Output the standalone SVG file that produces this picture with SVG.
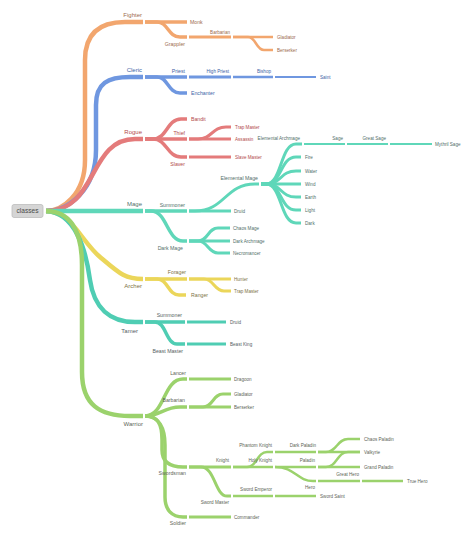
<svg xmlns="http://www.w3.org/2000/svg" width="474" height="540" viewBox="0 0 474 540">
<style>
.e{fill:none;stroke-linecap:butt;stroke-linejoin:round}
.o{stroke:#F2A66E}.b{stroke:#6F97E0}.r{stroke:#E47B7B}.m{stroke:#5FD7B9}.y{stroke:#EBD65A}.t{stroke:#4FCDB3}.g{stroke:#9BD26C}
.w1{stroke-width:4.5}.w2{stroke-width:3.5}.w3{stroke-width:3}.w4{stroke-width:2.5}.w5{stroke-width:2}
text{font-family:"Liberation Sans",Arial,sans-serif}
.l1{font-size:6px}.l2{font-size:5.2px}.l3{font-size:4.6px}
.en{text-anchor:end}
.to{fill:#9C6B4E}.tb{fill:#3D5FA6}.tr{fill:#B24A4A}.tm{fill:#52706A}.ty{fill:#7D7245}.tt{fill:#56625F}.tg{fill:#5E6658}
</style>
<rect width="474" height="540" fill="#fff"/>
<g id="connectors">
<path class="e o w1" d="M46,211 C62,211 85,195 85,160 L85,60 C85,35 98,22 125,22 L143,22"/>
<path class="e o w2" d="M145,22 L187,22"/>
<path class="e o w2" d="M145,22 L157,22 C168,22 168,37 180,37 L187,37"/>
<path class="e o w3" d="M189,37 L231,37"/>
<path class="e o w4" d="M233,37 L273,37"/>
<path class="e o w4" d="M233,37 L248,37 C256,37 256,50 264,50 L273,50"/>
<path class="e b w1" d="M46,211 C68,211 96,190 96,150 L96,105 C96,83 108,77 130,77 L143,77"/>
<path class="e b w2" d="M145,77 L187,77"/>
<path class="e b w2" d="M145,77 L157,77 C168,77 168,93 180,93 L187,93"/>
<path class="e b w3" d="M189,77 L231,77"/>
<path class="e b w4" d="M233,77 L273,77"/>
<path class="e b w5" d="M275,77 L316,77"/>
<path class="e r w1" d="M46,211 C98,211 88,139 135,139 L143,139"/>
<path class="e r w2" d="M145,139 L153,139 C167,139 167,119 181,119 L187,119"/>
<path class="e r w2" d="M145,139 L187,139"/>
<path class="e r w2" d="M145,139 L153,139 C167,139 167,157 181,157 L187,157"/>
<path class="e r w3" d="M189,139 L198,139 C212,139 212,127 226,127 L231,127"/>
<path class="e r w3" d="M189,139 L231,139"/>
<path class="e r w3" d="M189,157 L231,157"/>
<path class="e m w1" d="M46,211 L143,211"/>
<path class="e m w2" d="M145,211 L187,211"/>
<path class="e m w2" d="M145,211 L151,211 C167,211 167,241 183,241 L187,241"/>
<path class="e m w3" d="M189,211 L195,211 C225,211 225,184 255,184 L259,184"/>
<path class="e m w3" d="M189,211 L231,211"/>
<path class="e m w3" d="M261,184 L266,184 C282,184 280,144 296,144 L302,144"/>
<path class="e m w3" d="M261,184 L266,184 C282,184 280,157 296,157 L301,157"/>
<path class="e m w3" d="M261,184 L266,184 C282,184 280,171 296,171 L301,171"/>
<path class="e m w3" d="M261,184 L301,184"/>
<path class="e m w3" d="M261,184 L266,184 C282,184 280,197 296,197 L301,197"/>
<path class="e m w3" d="M261,184 L266,184 C282,184 280,210 296,210 L301,210"/>
<path class="e m w3" d="M261,184 L266,184 C282,184 280,223 296,223 L301,223"/>
<path class="e m w5" d="M304,144 L345,144"/>
<path class="e m w5" d="M347,144 L388,144"/>
<path class="e m w5" d="M390,144 L432,144"/>
<path class="e m w3" d="M189,241 L198,241 C208,241 208,228 218,228 L230,228"/>
<path class="e m w3" d="M189,241 L230,241"/>
<path class="e m w3" d="M189,241 L198,241 C208,241 208,253 218,253 L230,253"/>
<path class="e y w1" d="M46,211 C72,212 80,240 100,257 S125,279 143,279"/>
<path class="e y w2" d="M145,279 L187,279"/>
<path class="e y w2" d="M145,279 L157,279 C168,279 168,295 179,295 L186,295"/>
<path class="e y w3" d="M189,279 L231,279"/>
<path class="e y w3" d="M189,279 L204,279 C214,279 214,291 224,291 L231,291"/>
<path class="e t w1" d="M46,211 C75,212 86,250 90,280 C94,308 110,322 135,322 L143,322"/>
<path class="e t w2" d="M145,322 L185,322"/>
<path class="e t w2" d="M145,322 L155,322 C166,322 166,344 177,344 L185,344"/>
<path class="e t w3" d="M187,322 L226,322"/>
<path class="e t w3" d="M187,344 L226,344"/>
<path class="e g w1" d="M46,211 C68,211 82,228 82,265 L82,372 C82,405 100,416 130,416 L143,416"/>
<path class="e g w2" d="M145,416 C165,416 163,379 183,379 L187,379"/>
<path class="e g w2" d="M145,416 C160,416 164,407 180,407 L187,407"/>
<path class="e g w2" d="M145,416 C158,416 162,424 162,440 L162,450 C162,462 170,467 183,467 L187,467"/>
<path class="e g w2" d="M145,416 C159,416 165,428 165,445 L165,497 C165,510 172,517 183,517 L187,517"/>
<path class="e g w3" d="M189,379 L231,379"/>
<path class="e g w3" d="M189,407 L203,407 C213,407 213,394 223,394 L231,394"/>
<path class="e g w3" d="M189,407 L231,407"/>
<path class="e g w3" d="M189,517 L231,517"/>
<path class="e g w3" d="M189,467 L231,467"/>
<path class="e g w3" d="M189,467 L201,467 C215,467 215,496 227,496 L231,496"/>
<path class="e g w4" d="M233,467 L247,467 C257,467 257,452 267,452 L273,452"/>
<path class="e g w4" d="M233,467 L273,467"/>
<path class="e g w4" d="M233,496 L273,496"/>
<path class="e g w4" d="M275,452 L316,452"/>
<path class="e g w4" d="M275,467 L316,467"/>
<path class="e g w4" d="M275,467 C295,467 297,481 313,481 L316,481"/>
<path class="e g w4" d="M275,496 L316,496"/>
<path class="e g w4" d="M318,452 L326,452 C337,452 337,439 348,439 L360,439"/>
<path class="e g w4" d="M318,452 L360,452"/>
<path class="e g w4" d="M318,467 L326,467 C337,467 337,452 348,452 L360,452"/>
<path class="e g w4" d="M318,467 L360,467"/>
<path class="e g w4" d="M318,481 L360,481"/>
<path class="e g w4" d="M362,481 L403,481"/>
</g>
<g id="n-root">
<rect x="12" y="204.5" width="31" height="13" rx="2" fill="#D5D5D5" stroke="#BDBDBD" stroke-width="0.8"/>
<text x="27.5" y="213.4" font-size="6.6" text-anchor="middle" fill="#4A4A4A">classes</text>
</g>
<g id="n-fighter"><text class="l1 en to" x="142" y="17.1">Fighter</text></g>
<g id="n-monk"><text class="l2 to" x="190" y="23.9">Monk</text></g>
<g id="n-grappler"><text class="l2 en to" x="185" y="45.9">Grappler</text></g>
<g id="n-barbarian1"><text class="l3 en to" x="230" y="33.6">Barbarian</text></g>
<g id="n-gladiator1"><text class="l3 to" x="277" y="38.7">Gladiator</text></g>
<g id="n-berserker1"><text class="l3 to" x="277" y="51.7">Berserker</text></g>
<g id="n-cleric"><text class="l1 en tb" x="142" y="72.1">Cleric</text></g>
<g id="n-priest"><text class="l2 en tb" x="185" y="72.9">Priest</text></g>
<g id="n-enchanter"><text class="l2 tb" x="191" y="94.9">Enchanter</text></g>
<g id="n-highpriest"><text class="l3 en tb" x="229" y="72.6">High Priest</text></g>
<g id="n-bishop"><text class="l3 en tb" x="271" y="72.6">Bishop</text></g>
<g id="n-saint"><text class="l3 tb" x="320" y="78.6">Saint</text></g>
<g id="n-rogue"><text class="l1 en tr" x="142" y="134.1">Rogue</text></g>
<g id="n-bandit"><text class="l2 tr" x="191" y="120.9">Bandit</text></g>
<g id="n-thief"><text class="l2 en tr" x="185" y="134.9">Thief</text></g>
<g id="n-slaver"><text class="l2 en tr" x="185" y="165.9">Slaver</text></g>
<g id="n-trapmaster1"><text class="l3 tr" x="235" y="128.6">Trap Master</text></g>
<g id="n-assassin"><text class="l3 tr" x="235" y="140.6">Assassin</text></g>
<g id="n-slavemaster"><text class="l3 tr" x="235" y="158.6">Slave Master</text></g>
<g id="n-mage"><text class="l1 en tm" x="142" y="206.1">Mage</text></g>
<g id="n-summoner1"><text class="l2 en tm" x="185" y="206.9">Summoner</text></g>
<g id="n-elementalmage"><text class="l2 en tm" x="258" y="179.9">Elemental Mage</text></g>
<g id="n-druid1"><text class="l3 tm" x="234" y="212.6">Druid</text></g>
<g id="n-darkmage"><text class="l2 en tm" x="183" y="249.9">Dark Mage</text></g>
<g id="n-elementalarchmage"><text class="l3 en tm" x="300" y="139.6">Elemental Archmage</text></g>
<g id="n-fire"><text class="l3 tm" x="305" y="158.6">Fire</text></g>
<g id="n-water"><text class="l3 tm" x="305" y="172.6">Water</text></g>
<g id="n-wind"><text class="l3 tm" x="305" y="185.6">Wind</text></g>
<g id="n-earth"><text class="l3 tm" x="305" y="198.6">Earth</text></g>
<g id="n-light"><text class="l3 tm" x="305" y="211.6">Light</text></g>
<g id="n-dark"><text class="l3 tm" x="305" y="224.6">Dark</text></g>
<g id="n-sage"><text class="l3 en tm" x="343" y="139.6">Sage</text></g>
<g id="n-greatsage"><text class="l3 en tm" x="386" y="139.6">Great Sage</text></g>
<g id="n-mythrilsage"><text class="l3 tm" x="435" y="145.6">Mythril Sage</text></g>
<g id="n-chaosmage"><text class="l3 tm" x="233" y="229.6">Chaos Mage</text></g>
<g id="n-darkarchmage"><text class="l3 tm" x="233" y="242.6">Dark Archmage</text></g>
<g id="n-necromancer"><text class="l3 tm" x="233" y="254.6">Necromancer</text></g>
<g id="n-archer"><text class="l1 en ty" x="142" y="288.1">Archer</text></g>
<g id="n-forager"><text class="l2 en ty" x="186" y="274">Forager</text></g>
<g id="n-ranger"><text class="l2 ty" x="191" y="296.9">Ranger</text></g>
<g id="n-hunter"><text class="l3 ty" x="234" y="280.6">Hunter</text></g>
<g id="n-trapmaster2"><text class="l3 ty" x="234" y="292.6">Trap Master</text></g>
<g id="n-tamer"><text class="l1 en tt" x="138" y="332.7">Tamer</text></g>
<g id="n-summoner2"><text class="l2 en tt" x="182" y="317.2">Summoner</text></g>
<g id="n-beastmaster"><text class="l2 en tt" x="183" y="352.6">Beast Master</text></g>
<g id="n-druid2"><text class="l3 tt" x="230" y="323.6">Druid</text></g>
<g id="n-beastking"><text class="l3 tt" x="230" y="345.6">Beast King</text></g>
<g id="n-warrior"><text class="l1 en tg" x="143" y="426.1">Warrior</text></g>
<g id="n-lancer"><text class="l2 en tg" x="186" y="374.8">Lancer</text></g>
<g id="n-barbarian2"><text class="l2 en tg" x="185" y="401.9">Barbarian</text></g>
<g id="n-swordsman"><text class="l2 en tg" x="186" y="475">Swordsman</text></g>
<g id="n-soldier"><text class="l2 en tg" x="186" y="525.2">Soldier</text></g>
<g id="n-dragoon"><text class="l3 tg" x="234" y="380.6">Dragoon</text></g>
<g id="n-gladiator2"><text class="l3 tg" x="234" y="395.6">Gladiator</text></g>
<g id="n-berserker2"><text class="l3 tg" x="234" y="408.6">Berserker</text></g>
<g id="n-knight"><text class="l3 en tg" x="229" y="462.3">Knight</text></g>
<g id="n-swordmaster"><text class="l3 en tg" x="229" y="504">Sword Master</text></g>
<g id="n-commander"><text class="l3 tg" x="234" y="518.6">Commander</text></g>
<g id="n-phantomknight"><text class="l3 en tg" x="272" y="446.6">Phantom Knight</text></g>
<g id="n-holyknight"><text class="l3 en tg" x="272" y="461.6">Holy Knight</text></g>
<g id="n-swordemperor"><text class="l3 en tg" x="272" y="491">Sword Emperor</text></g>
<g id="n-darkpaladin"><text class="l3 en tg" x="316" y="446.6">Dark Paladin</text></g>
<g id="n-paladin"><text class="l3 en tg" x="315" y="461.6">Paladin</text></g>
<g id="n-hero"><text class="l3 en tg" x="315" y="489.3">Hero</text></g>
<g id="n-swordsaint"><text class="l3 tg" x="320" y="497.6">Sword Saint</text></g>
<g id="n-chaospaladin"><text class="l3 tg" x="364" y="440.6">Chaos Paladin</text></g>
<g id="n-valkyrie"><text class="l3 tg" x="364" y="453.6">Valkyrie</text></g>
<g id="n-grandpaladin"><text class="l3 tg" x="364" y="468.6">Grand Paladin</text></g>
<g id="n-greathero"><text class="l3 en tg" x="359" y="475.9">Great Hero</text></g>
<g id="n-truehero"><text class="l3 tg" x="407" y="482.6">True Hero</text></g>
</svg>
